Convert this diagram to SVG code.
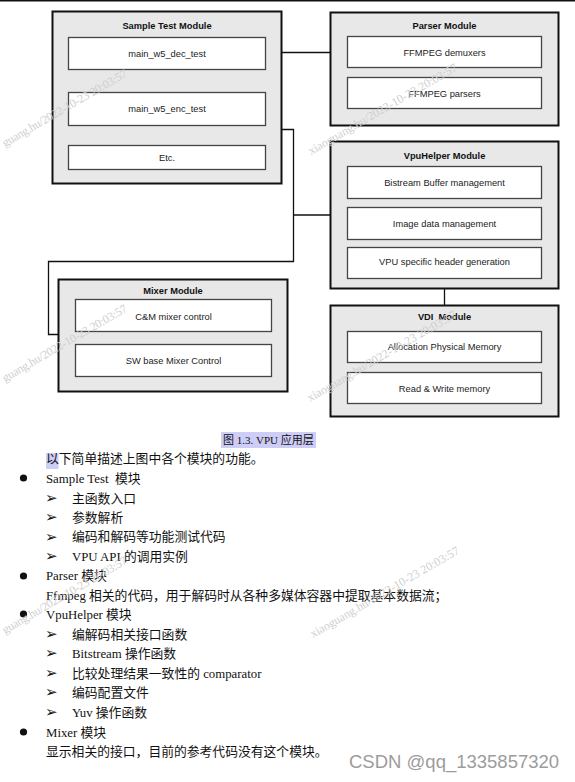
<svg xmlns="http://www.w3.org/2000/svg" width="575" height="782" viewBox="0 0 575 782">
<style>
.outer{fill:#e8e8e8;stroke:#111;stroke-width:2}
.inner{fill:#fff;stroke:#444;stroke-width:1.3}
.title{font-family:"Liberation Sans",Arial,sans-serif;font-size:9.3px;font-weight:bold;fill:#111;text-anchor:middle}
.lbl{font-family:"Liberation Sans",Arial,sans-serif;font-size:9.3px;fill:#222;text-anchor:middle}
.conn{fill:none;stroke:#111;stroke-width:1.3}
.body{font-family:"Liberation Serif","Noto Sans CJK SC",serif;font-size:12.8px;fill:#111}
.sym{font-family:"DejaVu Sans",sans-serif;font-size:15px;fill:#111}
.wm{font-family:"Liberation Serif",serif;font-size:12px;fill:#cfcfcf}
.hl{fill:#cdcdf7}
</style>
<rect x="0" y="0" width="575" height="1.5" fill="#111"/>

<g id="connectors">
<path class="conn" d="M262 52.5 H330"/>
<path class="conn" d="M282 129.5 H293.5 V261.5 H48.5 V334.5 H58"/>
<path class="conn" d="M293.5 215 H330"/>
<path class="conn" d="M444.5 289 V305"/>
</g>

<g id="sample-test-module">
<rect class="outer" x="52.5" y="11.5" width="229" height="172"/>
<text class="title" x="167" y="28.5">Sample Test Module</text>
<rect class="inner" x="68.5" y="37.5" width="197" height="32"/>
<text class="lbl" x="167" y="56.5">main_w5_dec_test</text>
<rect class="inner" x="68.5" y="92.5" width="197" height="33"/>
<text class="lbl" x="167" y="111.5">main_w5_enc_test</text>
<rect class="inner" x="68.5" y="145.5" width="197" height="24"/>
<text class="lbl" x="167" y="160.5">Etc.</text>
</g>

<g id="parser-module">
<rect class="outer" x="330.5" y="12.5" width="228" height="113"/>
<text class="title" x="444.5" y="28.5">Parser Module</text>
<rect class="inner" x="347.5" y="36.5" width="194" height="31"/>
<text class="lbl" x="444.5" y="55.5">FFMPEG demuxers</text>
<rect class="inner" x="347.5" y="77.5" width="194" height="31"/>
<text class="lbl" x="444.5" y="96.5">FFMPEG parsers</text>
</g>

<g id="vpuhelper-module">
<rect class="outer" x="330.5" y="141.5" width="228" height="147"/>
<text class="title" x="444.5" y="158.5">VpuHelper Module</text>
<rect class="inner" x="347.5" y="166.5" width="194" height="32"/>
<text class="lbl" x="444.5" y="186">Bistream Buffer management</text>
<rect class="inner" x="347.5" y="207.5" width="194" height="32"/>
<text class="lbl" x="444.5" y="227">Image data management</text>
<rect class="inner" x="347.5" y="247.5" width="194" height="31"/>
<text class="lbl" x="444.5" y="265">VPU specific header generation</text>
</g>

<g id="vdi-module">
<rect class="outer" x="330.5" y="305.5" width="228" height="111"/>
<text class="title" x="444.5" y="319.5" xml:space="preserve">VDI  Module</text>
<rect class="inner" x="347.5" y="331.5" width="194" height="31"/>
<text class="lbl" x="444.5" y="350">Allocation Physical Memory</text>
<rect class="inner" x="347.5" y="372.5" width="194" height="31"/>
<text class="lbl" x="444.5" y="391.5">Read &amp; Write memory</text>
</g>

<g id="mixer-module">
<rect class="outer" x="58.5" y="279.5" width="229" height="112"/>
<text class="title" x="173" y="293.5">Mixer Module</text>
<rect class="inner" x="75.5" y="299.5" width="196" height="32"/>
<text class="lbl" x="173.5" y="319.5">C&amp;M mixer control</text>
<rect class="inner" x="75.5" y="344.5" width="196" height="32"/>
<text class="lbl" x="173.5" y="363.5">SW base Mixer Control</text>
</g>

<g id="caption">
<rect class="hl" x="221" y="432" width="95" height="16"/>
<text class="body" x="223" y="443.5" style="font-size:11px">图 1.3. VPU 应用层</text>
</g>

<g id="body-text">
<rect class="hl" x="46" y="453" width="12.5" height="16"/>
<text class="body" x="46" y="463">以下简单描述上图中各个模块的功能。</text>

<circle cx="23.5" cy="478" r="3.6" fill="#111"/>
<text class="body" x="46" y="483" xml:space="preserve">Sample Test  模块</text>
<text class="sym" x="45" y="503">➢</text>
<text class="body" x="72" y="503">主函数入口</text>
<text class="sym" x="45" y="522">➢</text>
<text class="body" x="72" y="522">参数解析</text>
<text class="sym" x="45" y="542">➢</text>
<text class="body" x="72" y="541">编码和解码等功能测试代码</text>
<text class="sym" x="45" y="561">➢</text>
<text class="body" x="72" y="561">VPU API 的调用实例</text>

<circle cx="23.5" cy="576" r="3.6" fill="#111"/>
<text class="body" x="46" y="580">Parser 模块</text>
<text class="body" x="46" y="600">Ffmpeg 相关的代码，用于解码时从各种多媒体容器中提取基本数据流；</text>

<circle cx="23.5" cy="614" r="3.6" fill="#111"/>
<text class="body" x="46" y="619">VpuHelper 模块</text>
<text class="sym" x="45" y="639">➢</text>
<text class="body" x="72" y="639">编解码相关接口函数</text>
<text class="sym" x="45" y="658">➢</text>
<text class="body" x="72" y="658">Bitstream 操作函数</text>
<text class="sym" x="45" y="678">➢</text>
<text class="body" x="72" y="678">比较处理结果一致性的 comparator</text>
<text class="sym" x="45" y="697">➢</text>
<text class="body" x="72" y="697">编码配置文件</text>
<text class="sym" x="45" y="717">➢</text>
<text class="body" x="72" y="717">Yuv 操作函数</text>

<circle cx="23.5" cy="732" r="3.6" fill="#111"/>
<text class="body" x="46" y="737">Mixer 模块</text>
<text class="body" x="46" y="756">显示相关的接口，目前的参考代码没有这个模块。</text>
</g>

<g id="watermarks">
<text class="wm" x="5" y="147" transform="rotate(-30 5 147)" textLength="142">guang.hu/2022-10-23 20:03:57</text>
<text class="wm" x="311" y="155" transform="rotate(-30 311 155)" textLength="170">xiaoguang.hu/2022-10-23 20:03:57</text>
<text class="wm" x="5" y="382" transform="rotate(-30 5 382)" textLength="142">guang.hu/2022-10-23 20:03:57</text>
<text class="wm" x="310" y="402" transform="rotate(-30 310 402)" textLength="170">xiaoguang.hu/2022-10-23 20:03:57</text>
<text class="wm" x="5" y="634" transform="rotate(-30 5 634)" textLength="142">guang.hu/2022-10-23 20:03:57</text>
<text class="wm" x="313" y="638" transform="rotate(-30 313 638)" textLength="170">xiaoguang.hu/2022-10-23 20:03:57</text>
</g>

<text x="349" y="768" style="font-family:'Liberation Sans',Arial,sans-serif;font-size:18.5px;fill:#9c9c9c">CSDN @qq_1335857320</text>
</svg>
